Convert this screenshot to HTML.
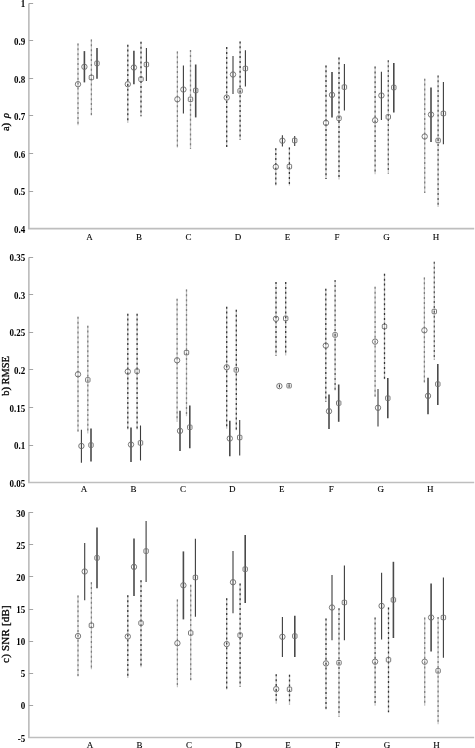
<!DOCTYPE html>
<html><head><meta charset="utf-8"><title>Figure</title>
<style>
html,body{margin:0;padding:0;background:#fff;}
body{width:475px;height:748px;overflow:hidden;}
svg{display:block;filter:blur(0.3px);}
text{font-family:"Liberation Serif","Times New Roman",serif;fill:#000;}
.tl{font-size:10px;font-weight:bold;text-anchor:end;dominant-baseline:central;}
.xl{font-size:9px;stroke:#000;stroke-width:0.1px;text-anchor:middle;dominant-baseline:central;}
.yl{font-size:10.4px;stroke:#000;stroke-width:0.3px;text-anchor:middle;}
</style></head><body>
<svg width="475" height="748" viewBox="0 0 475 748">
<rect width="475" height="748" fill="#fff"/>
<g>
<path d="M28.85 3.4V228.6H474.2" fill="none" stroke="#bebebe" stroke-width="1.7"/>
<path d="M28.85 3.5h4.3M28.85 40.5h4.3M28.85 78.5h4.3M28.85 115.5h4.3M28.85 153.5h4.3M28.85 191.5h4.3" stroke="#a4a4a4" stroke-width="1"/>
<text class="tl" transform="translate(25.2 4.3) scale(0.9 1)">1</text>
<text class="tl" transform="translate(25.2 41.83) scale(0.9 1)">0.9</text>
<text class="tl" transform="translate(25.2 79.36) scale(0.9 1)">0.8</text>
<text class="tl" transform="translate(25.2 116.89) scale(0.9 1)">0.7</text>
<text class="tl" transform="translate(25.2 154.42) scale(0.9 1)">0.6</text>
<text class="tl" transform="translate(25.2 191.95) scale(0.9 1)">0.5</text>
<text class="tl" transform="translate(25.2 229.48) scale(0.9 1)">0.4</text>
<text class="xl" x="89.5" y="237.3">A</text>
<text class="xl" x="139" y="237.3">B</text>
<text class="xl" x="188.5" y="237.3">C</text>
<text class="xl" x="238" y="237.3">D</text>
<text class="xl" x="287.5" y="237.3">E</text>
<text class="xl" x="337" y="237.3">F</text>
<text class="xl" x="386.5" y="237.3">G</text>
<text class="xl" x="436" y="237.3">H</text>
<text class="yl" transform="translate(8.6 122) rotate(-90)">a) <tspan dx="2.4" font-style="italic">ρ</tspan></text>
<path d="M78 43.4V125.2" stroke="#c4c4c4" stroke-width="1.2"/><path d="M78 43.4V125.2" stroke="#7e7e7e" stroke-width="1.25" stroke-dasharray="2 2.9"/><circle cx="78" cy="84.2" r="2.7" fill="none" stroke="#6a6a6a" stroke-width="0.9"/>
<path d="M84.4 51.1V82.4" stroke="#4a4a4a" stroke-width="1.6"/><circle cx="84.4" cy="66.8" r="2.7" fill="none" stroke="#6a6a6a" stroke-width="0.9"/>
<path d="M91.4 39.4V115.6" stroke="#c4c4c4" stroke-width="1.2"/><path d="M91.4 39.4V115.6" stroke="#7e7e7e" stroke-width="1.25" stroke-dasharray="2 2.9"/><rect x="89.2" y="75.3" width="4.4" height="4.4" rx="0.8" fill="none" stroke="#6a6a6a" stroke-width="0.9"/>
<path d="M97 48.1V78.8" stroke="#4a4a4a" stroke-width="1.6"/><rect x="94.8" y="61.2" width="4.4" height="4.4" rx="0.8" fill="none" stroke="#6a6a6a" stroke-width="0.9"/>
<path d="M127.8 44.7V123" stroke="#c4c4c4" stroke-width="1.2"/><path d="M127.8 44.7V123" stroke="#333333" stroke-width="1.25" stroke-dasharray="2 2.9"/><circle cx="127.8" cy="84.2" r="2.7" fill="none" stroke="#6a6a6a" stroke-width="0.9"/>
<path d="M133.9 50.7V84.2" stroke="#4a4a4a" stroke-width="1.6"/><circle cx="133.9" cy="67.5" r="2.7" fill="none" stroke="#6a6a6a" stroke-width="0.9"/>
<path d="M141 41.8V116.3" stroke="#c4c4c4" stroke-width="1.2"/><path d="M141 41.8V116.3" stroke="#333333" stroke-width="1.25" stroke-dasharray="2 2.9"/><rect x="138.8" y="77" width="4.4" height="4.4" rx="0.8" fill="none" stroke="#6a6a6a" stroke-width="0.9"/>
<path d="M146.4 48.1V81.1" stroke="#3c3c3c" stroke-width="1.1"/><rect x="144.2" y="62.3" width="4.4" height="4.4" rx="0.8" fill="none" stroke="#6a6a6a" stroke-width="0.9"/>
<path d="M177.4 51.4V147.5" stroke="#c4c4c4" stroke-width="1.2"/><path d="M177.4 51.4V147.5" stroke="#7e7e7e" stroke-width="1.25" stroke-dasharray="2 2.9"/><circle cx="177.4" cy="99.3" r="2.7" fill="none" stroke="#6a6a6a" stroke-width="0.9"/>
<path d="M183.4 65.5V113.4" stroke="#3c3c3c" stroke-width="1.1"/><circle cx="183.4" cy="89.5" r="2.7" fill="none" stroke="#6a6a6a" stroke-width="0.9"/>
<path d="M190.5 50.1V148.8" stroke="#c4c4c4" stroke-width="1.2"/><path d="M190.5 50.1V148.8" stroke="#7e7e7e" stroke-width="1.25" stroke-dasharray="2 2.9"/><rect x="188.3" y="97.1" width="4.4" height="4.4" rx="0.8" fill="none" stroke="#6a6a6a" stroke-width="0.9"/>
<path d="M195.7 64.5V117.4" stroke="#4a4a4a" stroke-width="1.6"/><rect x="193.5" y="88.3" width="4.4" height="4.4" rx="0.8" fill="none" stroke="#6a6a6a" stroke-width="0.9"/>
<path d="M226.7 47.1V147.1" stroke="#c4c4c4" stroke-width="1.2"/><path d="M226.7 47.1V147.1" stroke="#333333" stroke-width="1.25" stroke-dasharray="2 2.9"/><circle cx="226.7" cy="97.6" r="2.7" fill="none" stroke="#6a6a6a" stroke-width="0.9"/>
<path d="M233 56.1V94" stroke="#3c3c3c" stroke-width="1.1"/><circle cx="233" cy="74.5" r="2.7" fill="none" stroke="#6a6a6a" stroke-width="0.9"/>
<path d="M240.1 41.4V139.9" stroke="#c4c4c4" stroke-width="1.2"/><path d="M240.1 41.4V139.9" stroke="#333333" stroke-width="1.25" stroke-dasharray="2 2.9"/><rect x="237.9" y="88.7" width="4.4" height="4.4" rx="0.8" fill="none" stroke="#6a6a6a" stroke-width="0.9"/>
<path d="M245.4 50.3V86.5" stroke="#3c3c3c" stroke-width="1.1"/><rect x="243.2" y="66.3" width="4.4" height="4.4" rx="0.8" fill="none" stroke="#6a6a6a" stroke-width="0.9"/>
<path d="M275.8 148.2V185.6" stroke="#c4c4c4" stroke-width="1.2"/><path d="M275.8 148.2V185.6" stroke="#333333" stroke-width="1.25" stroke-dasharray="2 2.9"/><circle cx="275.8" cy="166.9" r="2.7" fill="none" stroke="#6a6a6a" stroke-width="0.9"/>
<path d="M282.4 135.3V146.6" stroke="#3c3c3c" stroke-width="1.1"/><circle cx="282.4" cy="140.7" r="2.7" fill="none" stroke="#6a6a6a" stroke-width="0.9"/>
<path d="M289.4 147.6V185.6" stroke="#c4c4c4" stroke-width="1.2"/><path d="M289.4 147.6V185.6" stroke="#333333" stroke-width="1.25" stroke-dasharray="2 2.9"/><rect x="287.2" y="164.4" width="4.4" height="4.4" rx="0.8" fill="none" stroke="#6a6a6a" stroke-width="0.9"/>
<path d="M294.7 135.9V146" stroke="#3c3c3c" stroke-width="1.1"/><rect x="292.5" y="138.3" width="4.4" height="4.4" rx="0.8" fill="none" stroke="#6a6a6a" stroke-width="0.9"/>
<path d="M326 65.4V178.9" stroke="#c4c4c4" stroke-width="1.2"/><path d="M326 65.4V178.9" stroke="#333333" stroke-width="1.25" stroke-dasharray="2 2.9"/><circle cx="326" cy="122.9" r="2.7" fill="none" stroke="#6a6a6a" stroke-width="0.9"/>
<path d="M332 72.1V117.6" stroke="#4a4a4a" stroke-width="1.6"/><circle cx="332" cy="94.9" r="2.7" fill="none" stroke="#6a6a6a" stroke-width="0.9"/>
<path d="M339 57.4V179.5" stroke="#c4c4c4" stroke-width="1.2"/><path d="M339 57.4V179.5" stroke="#333333" stroke-width="1.25" stroke-dasharray="2 2.9"/><rect x="336.8" y="116.1" width="4.4" height="4.4" rx="0.8" fill="none" stroke="#6a6a6a" stroke-width="0.9"/>
<path d="M344.4 64.1V110.6" stroke="#3c3c3c" stroke-width="1.1"/><rect x="342.2" y="84.9" width="4.4" height="4.4" rx="0.8" fill="none" stroke="#6a6a6a" stroke-width="0.9"/>
<path d="M375.1 66.5V174.2" stroke="#c4c4c4" stroke-width="1.2"/><path d="M375.1 66.5V174.2" stroke="#555555" stroke-width="1.25" stroke-dasharray="2 2.9"/><circle cx="375.1" cy="120.3" r="2.7" fill="none" stroke="#6a6a6a" stroke-width="0.9"/>
<path d="M381.4 71.7V120" stroke="#3c3c3c" stroke-width="1.1"/><circle cx="381.4" cy="95.5" r="2.7" fill="none" stroke="#6a6a6a" stroke-width="0.9"/>
<path d="M388.3 60.3V173.5" stroke="#c4c4c4" stroke-width="1.2"/><path d="M388.3 60.3V173.5" stroke="#555555" stroke-width="1.25" stroke-dasharray="2 2.9"/><rect x="386.1" y="114.7" width="4.4" height="4.4" rx="0.8" fill="none" stroke="#6a6a6a" stroke-width="0.9"/>
<path d="M393.8 63V112.6" stroke="#4a4a4a" stroke-width="1.6"/><rect x="391.6" y="85.3" width="4.4" height="4.4" rx="0.8" fill="none" stroke="#6a6a6a" stroke-width="0.9"/>
<path d="M424.7 78.7V192.9" stroke="#c4c4c4" stroke-width="1.2"/><path d="M424.7 78.7V192.9" stroke="#7e7e7e" stroke-width="1.25" stroke-dasharray="2 2.9"/><circle cx="424.7" cy="136.5" r="2.7" fill="none" stroke="#6a6a6a" stroke-width="0.9"/>
<path d="M431 87.4V141.9" stroke="#4a4a4a" stroke-width="1.6"/><circle cx="431" cy="114.6" r="2.7" fill="none" stroke="#6a6a6a" stroke-width="0.9"/>
<path d="M438.1 75.4V206.9" stroke="#c4c4c4" stroke-width="1.2"/><path d="M438.1 75.4V206.9" stroke="#555555" stroke-width="1.25" stroke-dasharray="2 2.9"/><rect x="435.9" y="138.3" width="4.4" height="4.4" rx="0.8" fill="none" stroke="#6a6a6a" stroke-width="0.9"/>
<path d="M443.4 82.1V144.3" stroke="#3c3c3c" stroke-width="1.1"/><rect x="441.2" y="111.3" width="4.4" height="4.4" rx="0.8" fill="none" stroke="#6a6a6a" stroke-width="0.9"/>
</g>
<g>
<path d="M28.85 257.4V482.5H474.2" fill="none" stroke="#bebebe" stroke-width="1.7"/>
<path d="M28.85 257.5h4.3M28.85 294.5h4.3M28.85 332.5h4.3M28.85 369.5h4.3M28.85 407.5h4.3M28.85 445.5h4.3" stroke="#a4a4a4" stroke-width="1"/>
<text class="tl" transform="translate(25.2 258.3) scale(0.9 1)">0.35</text>
<text class="tl" transform="translate(25.2 295.82) scale(0.9 1)">0.3</text>
<text class="tl" transform="translate(25.2 333.34) scale(0.9 1)">0.25</text>
<text class="tl" transform="translate(25.2 370.86) scale(0.9 1)">0.2</text>
<text class="tl" transform="translate(25.2 408.38) scale(0.9 1)">0.15</text>
<text class="tl" transform="translate(25.2 445.9) scale(0.9 1)">0.1</text>
<text class="tl" transform="translate(25.2 483.42) scale(0.9 1)">0.05</text>
<text class="xl" x="84" y="489.4">A</text>
<text class="xl" x="133.45" y="489.4">B</text>
<text class="xl" x="182.9" y="489.4">C</text>
<text class="xl" x="232.35" y="489.4">D</text>
<text class="xl" x="281.8" y="489.4">E</text>
<text class="xl" x="331.25" y="489.4">F</text>
<text class="xl" x="380.7" y="489.4">G</text>
<text class="xl" x="430.15" y="489.4">H</text>
<text class="yl" transform="translate(8.6 376) rotate(-90)">b) RMSE</text>
<path d="M78 316.8V431.5" stroke="#c4c4c4" stroke-width="1.2"/><path d="M78 316.8V431.5" stroke="#7e7e7e" stroke-width="1.25" stroke-dasharray="2 2.9"/><circle cx="78" cy="374.3" r="2.7" fill="none" stroke="#6a6a6a" stroke-width="0.9"/>
<path d="M81.4 429.8V462.7" stroke="#3c3c3c" stroke-width="1.1"/><circle cx="81.4" cy="446" r="2.7" fill="none" stroke="#6a6a6a" stroke-width="0.9"/>
<path d="M87.8 325.7V433.5" stroke="#c4c4c4" stroke-width="1.2"/><path d="M87.8 325.7V433.5" stroke="#7e7e7e" stroke-width="1.25" stroke-dasharray="2 2.9"/><rect x="85.6" y="377.7" width="4.4" height="4.4" rx="0.8" fill="none" stroke="#6a6a6a" stroke-width="0.9"/>
<path d="M91 428.4V461.6" stroke="#4a4a4a" stroke-width="1.6"/><rect x="88.8" y="442.9" width="4.4" height="4.4" rx="0.8" fill="none" stroke="#6a6a6a" stroke-width="0.9"/>
<path d="M127.8 313.7V429.5" stroke="#c4c4c4" stroke-width="1.2"/><path d="M127.8 313.7V429.5" stroke="#333333" stroke-width="1.25" stroke-dasharray="2 2.9"/><circle cx="127.8" cy="371.6" r="2.7" fill="none" stroke="#6a6a6a" stroke-width="0.9"/>
<path d="M131 427.5V461.9" stroke="#4a4a4a" stroke-width="1.6"/><circle cx="131" cy="444.6" r="2.7" fill="none" stroke="#6a6a6a" stroke-width="0.9"/>
<path d="M137.1 313.7V429.5" stroke="#c4c4c4" stroke-width="1.2"/><path d="M137.1 313.7V429.5" stroke="#333333" stroke-width="1.25" stroke-dasharray="2 2.9"/><rect x="134.9" y="369" width="4.4" height="4.4" rx="0.8" fill="none" stroke="#6a6a6a" stroke-width="0.9"/>
<path d="M140.5 425.5V460.5" stroke="#3c3c3c" stroke-width="1.1"/><rect x="138.3" y="440.7" width="4.4" height="4.4" rx="0.8" fill="none" stroke="#6a6a6a" stroke-width="0.9"/>
<path d="M177.1 298.7V421.5" stroke="#c4c4c4" stroke-width="1.2"/><path d="M177.1 298.7V421.5" stroke="#7e7e7e" stroke-width="1.25" stroke-dasharray="2 2.9"/><circle cx="177.1" cy="360.3" r="2.7" fill="none" stroke="#6a6a6a" stroke-width="0.9"/>
<path d="M180 410.8V450.9" stroke="#4a4a4a" stroke-width="1.6"/><circle cx="180" cy="430.9" r="2.7" fill="none" stroke="#6a6a6a" stroke-width="0.9"/>
<path d="M186.5 289.4V416.2" stroke="#c4c4c4" stroke-width="1.2"/><path d="M186.5 289.4V416.2" stroke="#7e7e7e" stroke-width="1.25" stroke-dasharray="2 2.9"/><rect x="184.3" y="350.4" width="4.4" height="4.4" rx="0.8" fill="none" stroke="#6a6a6a" stroke-width="0.9"/>
<path d="M189.8 405.5V448.3" stroke="#4a4a4a" stroke-width="1.6"/><rect x="187.6" y="425.1" width="4.4" height="4.4" rx="0.8" fill="none" stroke="#6a6a6a" stroke-width="0.9"/>
<path d="M226.7 306.7V428.8" stroke="#c4c4c4" stroke-width="1.2"/><path d="M226.7 306.7V428.8" stroke="#333333" stroke-width="1.25" stroke-dasharray="2 2.9"/><circle cx="226.7" cy="367.3" r="2.7" fill="none" stroke="#6a6a6a" stroke-width="0.9"/>
<path d="M229.8 420.8V456.3" stroke="#4a4a4a" stroke-width="1.6"/><circle cx="229.8" cy="438.5" r="2.7" fill="none" stroke="#6a6a6a" stroke-width="0.9"/>
<path d="M236.3 309.8V430.2" stroke="#c4c4c4" stroke-width="1.2"/><path d="M236.3 309.8V430.2" stroke="#333333" stroke-width="1.25" stroke-dasharray="2 2.9"/><rect x="234.1" y="367.7" width="4.4" height="4.4" rx="0.8" fill="none" stroke="#6a6a6a" stroke-width="0.9"/>
<path d="M239.7 419.9V455.6" stroke="#3c3c3c" stroke-width="1.1"/><rect x="237.5" y="435.3" width="4.4" height="4.4" rx="0.8" fill="none" stroke="#6a6a6a" stroke-width="0.9"/>
<path d="M276 282V355.9" stroke="#c4c4c4" stroke-width="1.2"/><path d="M276 282V355.9" stroke="#333333" stroke-width="1.25" stroke-dasharray="2 2.9"/><circle cx="276" cy="318.8" r="2.7" fill="none" stroke="#6a6a6a" stroke-width="0.9"/>
<path d="M279.4 384.6V387.6" stroke="#3c3c3c" stroke-width="1.1"/><circle cx="279.4" cy="386.1" r="2.7" fill="none" stroke="#6a6a6a" stroke-width="0.9"/>
<path d="M285.7 282V355.6" stroke="#c4c4c4" stroke-width="1.2"/><path d="M285.7 282V355.6" stroke="#333333" stroke-width="1.25" stroke-dasharray="2 2.9"/><rect x="283.5" y="316.2" width="4.4" height="4.4" rx="0.8" fill="none" stroke="#6a6a6a" stroke-width="0.9"/>
<path d="M289.1 384.2V387.2" stroke="#3c3c3c" stroke-width="1.1"/><rect x="286.9" y="383.5" width="4.4" height="4.4" rx="0.8" fill="none" stroke="#6a6a6a" stroke-width="0.9"/>
<path d="M325.8 288.7V402.1" stroke="#c4c4c4" stroke-width="1.2"/><path d="M325.8 288.7V402.1" stroke="#333333" stroke-width="1.25" stroke-dasharray="2 2.9"/><circle cx="325.8" cy="345.6" r="2.7" fill="none" stroke="#6a6a6a" stroke-width="0.9"/>
<path d="M329 394.5V428.9" stroke="#4a4a4a" stroke-width="1.6"/><circle cx="329" cy="411.2" r="2.7" fill="none" stroke="#6a6a6a" stroke-width="0.9"/>
<path d="M335.1 280V390.5" stroke="#c4c4c4" stroke-width="1.2"/><path d="M335.1 280V390.5" stroke="#555555" stroke-width="1.25" stroke-dasharray="2 2.9"/><rect x="332.9" y="332.7" width="4.4" height="4.4" rx="0.8" fill="none" stroke="#6a6a6a" stroke-width="0.9"/>
<path d="M338.7 384.5V421.8" stroke="#4a4a4a" stroke-width="1.6"/><rect x="336.5" y="400.9" width="4.4" height="4.4" rx="0.8" fill="none" stroke="#6a6a6a" stroke-width="0.9"/>
<path d="M375.1 286.8V396.8" stroke="#c4c4c4" stroke-width="1.2"/><path d="M375.1 286.8V396.8" stroke="#7e7e7e" stroke-width="1.25" stroke-dasharray="2 2.9"/><circle cx="375.1" cy="341.6" r="2.7" fill="none" stroke="#6a6a6a" stroke-width="0.9"/>
<path d="M378 389.1V426.5" stroke="#3c3c3c" stroke-width="1.1"/><circle cx="378" cy="407.8" r="2.7" fill="none" stroke="#6a6a6a" stroke-width="0.9"/>
<path d="M384.5 273.8V379.2" stroke="#c4c4c4" stroke-width="1.2"/><path d="M384.5 273.8V379.2" stroke="#333333" stroke-width="1.25" stroke-dasharray="2 2.9"/><rect x="382.3" y="324.3" width="4.4" height="4.4" rx="0.8" fill="none" stroke="#6a6a6a" stroke-width="0.9"/>
<path d="M387.8 378.1V418.2" stroke="#4a4a4a" stroke-width="1.6"/><rect x="385.6" y="396" width="4.4" height="4.4" rx="0.8" fill="none" stroke="#6a6a6a" stroke-width="0.9"/>
<path d="M424.4 277.4V382.5" stroke="#c4c4c4" stroke-width="1.2"/><path d="M424.4 277.4V382.5" stroke="#7e7e7e" stroke-width="1.25" stroke-dasharray="2 2.9"/><circle cx="424.4" cy="330.3" r="2.7" fill="none" stroke="#6a6a6a" stroke-width="0.9"/>
<path d="M428 377.7V414.2" stroke="#4a4a4a" stroke-width="1.6"/><circle cx="428" cy="395.9" r="2.7" fill="none" stroke="#6a6a6a" stroke-width="0.9"/>
<path d="M434.3 261.8V360.1" stroke="#c4c4c4" stroke-width="1.2"/><path d="M434.3 261.8V360.1" stroke="#555555" stroke-width="1.25" stroke-dasharray="2 2.9"/><rect x="432.1" y="309.3" width="4.4" height="4.4" rx="0.8" fill="none" stroke="#6a6a6a" stroke-width="0.9"/>
<path d="M437.8 364.1V404.9" stroke="#4a4a4a" stroke-width="1.6"/><rect x="435.6" y="381.9" width="4.4" height="4.4" rx="0.8" fill="none" stroke="#6a6a6a" stroke-width="0.9"/>
</g>
<g>
<path d="M28.85 512.3V737.5H474.2" fill="none" stroke="#bebebe" stroke-width="1.7"/>
<path d="M28.85 512.5h4.3M28.85 544.5h4.3M28.85 576.5h4.3M28.85 609.5h4.3M28.85 641.5h4.3M28.85 673.5h4.3M28.85 705.5h4.3" stroke="#a4a4a4" stroke-width="1"/>
<text class="tl" transform="translate(25.2 513.6) scale(0.9 1)">30</text>
<text class="tl" transform="translate(25.2 545.71) scale(0.9 1)">25</text>
<text class="tl" transform="translate(25.2 577.82) scale(0.9 1)">20</text>
<text class="tl" transform="translate(25.2 609.93) scale(0.9 1)">15</text>
<text class="tl" transform="translate(25.2 642.04) scale(0.9 1)">10</text>
<text class="tl" transform="translate(25.2 674.15) scale(0.9 1)">5</text>
<text class="tl" transform="translate(25.2 706.26) scale(0.9 1)">0</text>
<text class="tl" transform="translate(25.2 738.37) scale(0.9 1)">-5</text>
<text class="xl" x="90" y="744.5">A</text>
<text class="xl" x="139.5" y="744.5">B</text>
<text class="xl" x="189" y="744.5">C</text>
<text class="xl" x="238.5" y="744.5">D</text>
<text class="xl" x="288" y="744.5">E</text>
<text class="xl" x="337.5" y="744.5">F</text>
<text class="xl" x="387" y="744.5">G</text>
<text class="xl" x="436.5" y="744.5">H</text>
<text class="yl" style="font-size:11px;letter-spacing:0.2px" transform="translate(8.6 634) rotate(-90)">c) SNR [dB]</text>
<path d="M78 595.6V676.5" stroke="#c4c4c4" stroke-width="1.2"/><path d="M78 595.6V676.5" stroke="#7e7e7e" stroke-width="1.25" stroke-dasharray="2 2.9"/><circle cx="78" cy="636.1" r="2.7" fill="none" stroke="#6a6a6a" stroke-width="0.9"/>
<path d="M84.7 543V600.3" stroke="#3c3c3c" stroke-width="1.1"/><circle cx="84.7" cy="571.5" r="2.7" fill="none" stroke="#6a6a6a" stroke-width="0.9"/>
<path d="M91.4 582.2V669.3" stroke="#c4c4c4" stroke-width="1.2"/><path d="M91.4 582.2V669.3" stroke="#7e7e7e" stroke-width="1.25" stroke-dasharray="2 2.9"/><rect x="89.2" y="623.2" width="4.4" height="4.4" rx="0.8" fill="none" stroke="#6a6a6a" stroke-width="0.9"/>
<path d="M97 527.4V588.2" stroke="#4a4a4a" stroke-width="1.6"/><rect x="94.8" y="555.7" width="4.4" height="4.4" rx="0.8" fill="none" stroke="#6a6a6a" stroke-width="0.9"/>
<path d="M127.8 595.3V677.9" stroke="#c4c4c4" stroke-width="1.2"/><path d="M127.8 595.3V677.9" stroke="#333333" stroke-width="1.25" stroke-dasharray="2 2.9"/><circle cx="127.8" cy="636.5" r="2.7" fill="none" stroke="#6a6a6a" stroke-width="0.9"/>
<path d="M134 538.4V595.9" stroke="#4a4a4a" stroke-width="1.6"/><circle cx="134" cy="566.9" r="2.7" fill="none" stroke="#6a6a6a" stroke-width="0.9"/>
<path d="M141 580.3V667.2" stroke="#c4c4c4" stroke-width="1.2"/><path d="M141 580.3V667.2" stroke="#333333" stroke-width="1.25" stroke-dasharray="2 2.9"/><rect x="138.8" y="620.9" width="4.4" height="4.4" rx="0.8" fill="none" stroke="#6a6a6a" stroke-width="0.9"/>
<path d="M146.1 521V581.9" stroke="#3c3c3c" stroke-width="1.1"/><rect x="143.9" y="548.9" width="4.4" height="4.4" rx="0.8" fill="none" stroke="#6a6a6a" stroke-width="0.9"/>
<path d="M177.4 599.6V687.3" stroke="#c4c4c4" stroke-width="1.2"/><path d="M177.4 599.6V687.3" stroke="#7e7e7e" stroke-width="1.25" stroke-dasharray="2 2.9"/><circle cx="177.4" cy="643.2" r="2.7" fill="none" stroke="#6a6a6a" stroke-width="0.9"/>
<path d="M183.4 551.4V619.4" stroke="#4a4a4a" stroke-width="1.6"/><circle cx="183.4" cy="585.3" r="2.7" fill="none" stroke="#6a6a6a" stroke-width="0.9"/>
<path d="M190.7 584.8V680.6" stroke="#c4c4c4" stroke-width="1.2"/><path d="M190.7 584.8V680.6" stroke="#7e7e7e" stroke-width="1.25" stroke-dasharray="2 2.9"/><rect x="188.5" y="630.8" width="4.4" height="4.4" rx="0.8" fill="none" stroke="#6a6a6a" stroke-width="0.9"/>
<path d="M195.4 538.7V616.7" stroke="#3c3c3c" stroke-width="1.1"/><rect x="193.2" y="575.3" width="4.4" height="4.4" rx="0.8" fill="none" stroke="#6a6a6a" stroke-width="0.9"/>
<path d="M226.7 598.3V689.6" stroke="#c4c4c4" stroke-width="1.2"/><path d="M226.7 598.3V689.6" stroke="#333333" stroke-width="1.25" stroke-dasharray="2 2.9"/><circle cx="226.7" cy="644.1" r="2.7" fill="none" stroke="#6a6a6a" stroke-width="0.9"/>
<path d="M233 551V613.2" stroke="#3c3c3c" stroke-width="1.1"/><circle cx="233" cy="582.2" r="2.7" fill="none" stroke="#6a6a6a" stroke-width="0.9"/>
<path d="M240.1 583.5V686.9" stroke="#c4c4c4" stroke-width="1.2"/><path d="M240.1 583.5V686.9" stroke="#333333" stroke-width="1.25" stroke-dasharray="2 2.9"/><rect x="237.9" y="633" width="4.4" height="4.4" rx="0.8" fill="none" stroke="#6a6a6a" stroke-width="0.9"/>
<path d="M245.2 535V602.9" stroke="#4a4a4a" stroke-width="1.6"/><rect x="243" y="567" width="4.4" height="4.4" rx="0.8" fill="none" stroke="#6a6a6a" stroke-width="0.9"/>
<path d="M276.2 674.3V703.8" stroke="#c4c4c4" stroke-width="1.2"/><path d="M276.2 674.3V703.8" stroke="#333333" stroke-width="1.25" stroke-dasharray="2 2.9"/><circle cx="276.2" cy="689.1" r="2.7" fill="none" stroke="#6a6a6a" stroke-width="0.9"/>
<path d="M282.4 617.1V656.9" stroke="#3c3c3c" stroke-width="1.1"/><circle cx="282.4" cy="636.8" r="2.7" fill="none" stroke="#6a6a6a" stroke-width="0.9"/>
<path d="M289.5 674.7V704.2" stroke="#c4c4c4" stroke-width="1.2"/><path d="M289.5 674.7V704.2" stroke="#333333" stroke-width="1.25" stroke-dasharray="2 2.9"/><rect x="287.3" y="687.1" width="4.4" height="4.4" rx="0.8" fill="none" stroke="#6a6a6a" stroke-width="0.9"/>
<path d="M294.8 615.8V656.9" stroke="#4a4a4a" stroke-width="1.6"/><rect x="292.6" y="633.9" width="4.4" height="4.4" rx="0.8" fill="none" stroke="#6a6a6a" stroke-width="0.9"/>
<path d="M326 618.6V709.6" stroke="#c4c4c4" stroke-width="1.2"/><path d="M326 618.6V709.6" stroke="#333333" stroke-width="1.25" stroke-dasharray="2 2.9"/><circle cx="326" cy="663.4" r="2.7" fill="none" stroke="#6a6a6a" stroke-width="0.9"/>
<path d="M332 575V640.3" stroke="#3c3c3c" stroke-width="1.1"/><circle cx="332" cy="607.5" r="2.7" fill="none" stroke="#6a6a6a" stroke-width="0.9"/>
<path d="M339 608.2V716.5" stroke="#c4c4c4" stroke-width="1.2"/><path d="M339 608.2V716.5" stroke="#555555" stroke-width="1.25" stroke-dasharray="2 2.9"/><rect x="336.8" y="660.5" width="4.4" height="4.4" rx="0.8" fill="none" stroke="#6a6a6a" stroke-width="0.9"/>
<path d="M344.4 565.6V640.3" stroke="#3c3c3c" stroke-width="1.1"/><rect x="342.2" y="600.3" width="4.4" height="4.4" rx="0.8" fill="none" stroke="#6a6a6a" stroke-width="0.9"/>
<path d="M375.1 617.6V705.8" stroke="#c4c4c4" stroke-width="1.2"/><path d="M375.1 617.6V705.8" stroke="#555555" stroke-width="1.25" stroke-dasharray="2 2.9"/><circle cx="375.1" cy="661.7" r="2.7" fill="none" stroke="#6a6a6a" stroke-width="0.9"/>
<path d="M381.6 572.7V639.4" stroke="#3c3c3c" stroke-width="1.1"/><circle cx="381.6" cy="605.9" r="2.7" fill="none" stroke="#6a6a6a" stroke-width="0.9"/>
<path d="M388.5 607.5V712.2" stroke="#c4c4c4" stroke-width="1.2"/><path d="M388.5 607.5V712.2" stroke="#333333" stroke-width="1.25" stroke-dasharray="2 2.9"/><rect x="386.3" y="657.6" width="4.4" height="4.4" rx="0.8" fill="none" stroke="#6a6a6a" stroke-width="0.9"/>
<path d="M393.4 561.8V638" stroke="#4a4a4a" stroke-width="1.6"/><rect x="391.2" y="597.7" width="4.4" height="4.4" rx="0.8" fill="none" stroke="#6a6a6a" stroke-width="0.9"/>
<path d="M424.7 617.5V705.8" stroke="#c4c4c4" stroke-width="1.2"/><path d="M424.7 617.5V705.8" stroke="#7e7e7e" stroke-width="1.25" stroke-dasharray="2 2.9"/><circle cx="424.7" cy="661.7" r="2.7" fill="none" stroke="#6a6a6a" stroke-width="0.9"/>
<path d="M431.1 583.4V651.6" stroke="#4a4a4a" stroke-width="1.6"/><circle cx="431.1" cy="617.5" r="2.7" fill="none" stroke="#6a6a6a" stroke-width="0.9"/>
<path d="M438.1 616.9V724.3" stroke="#c4c4c4" stroke-width="1.2"/><path d="M438.1 616.9V724.3" stroke="#7e7e7e" stroke-width="1.25" stroke-dasharray="2 2.9"/><rect x="435.9" y="668.6" width="4.4" height="4.4" rx="0.8" fill="none" stroke="#6a6a6a" stroke-width="0.9"/>
<path d="M443.4 577.4V657.7" stroke="#3c3c3c" stroke-width="1.1"/><rect x="441.2" y="615.3" width="4.4" height="4.4" rx="0.8" fill="none" stroke="#6a6a6a" stroke-width="0.9"/>
</g>
</svg>
</body></html>
